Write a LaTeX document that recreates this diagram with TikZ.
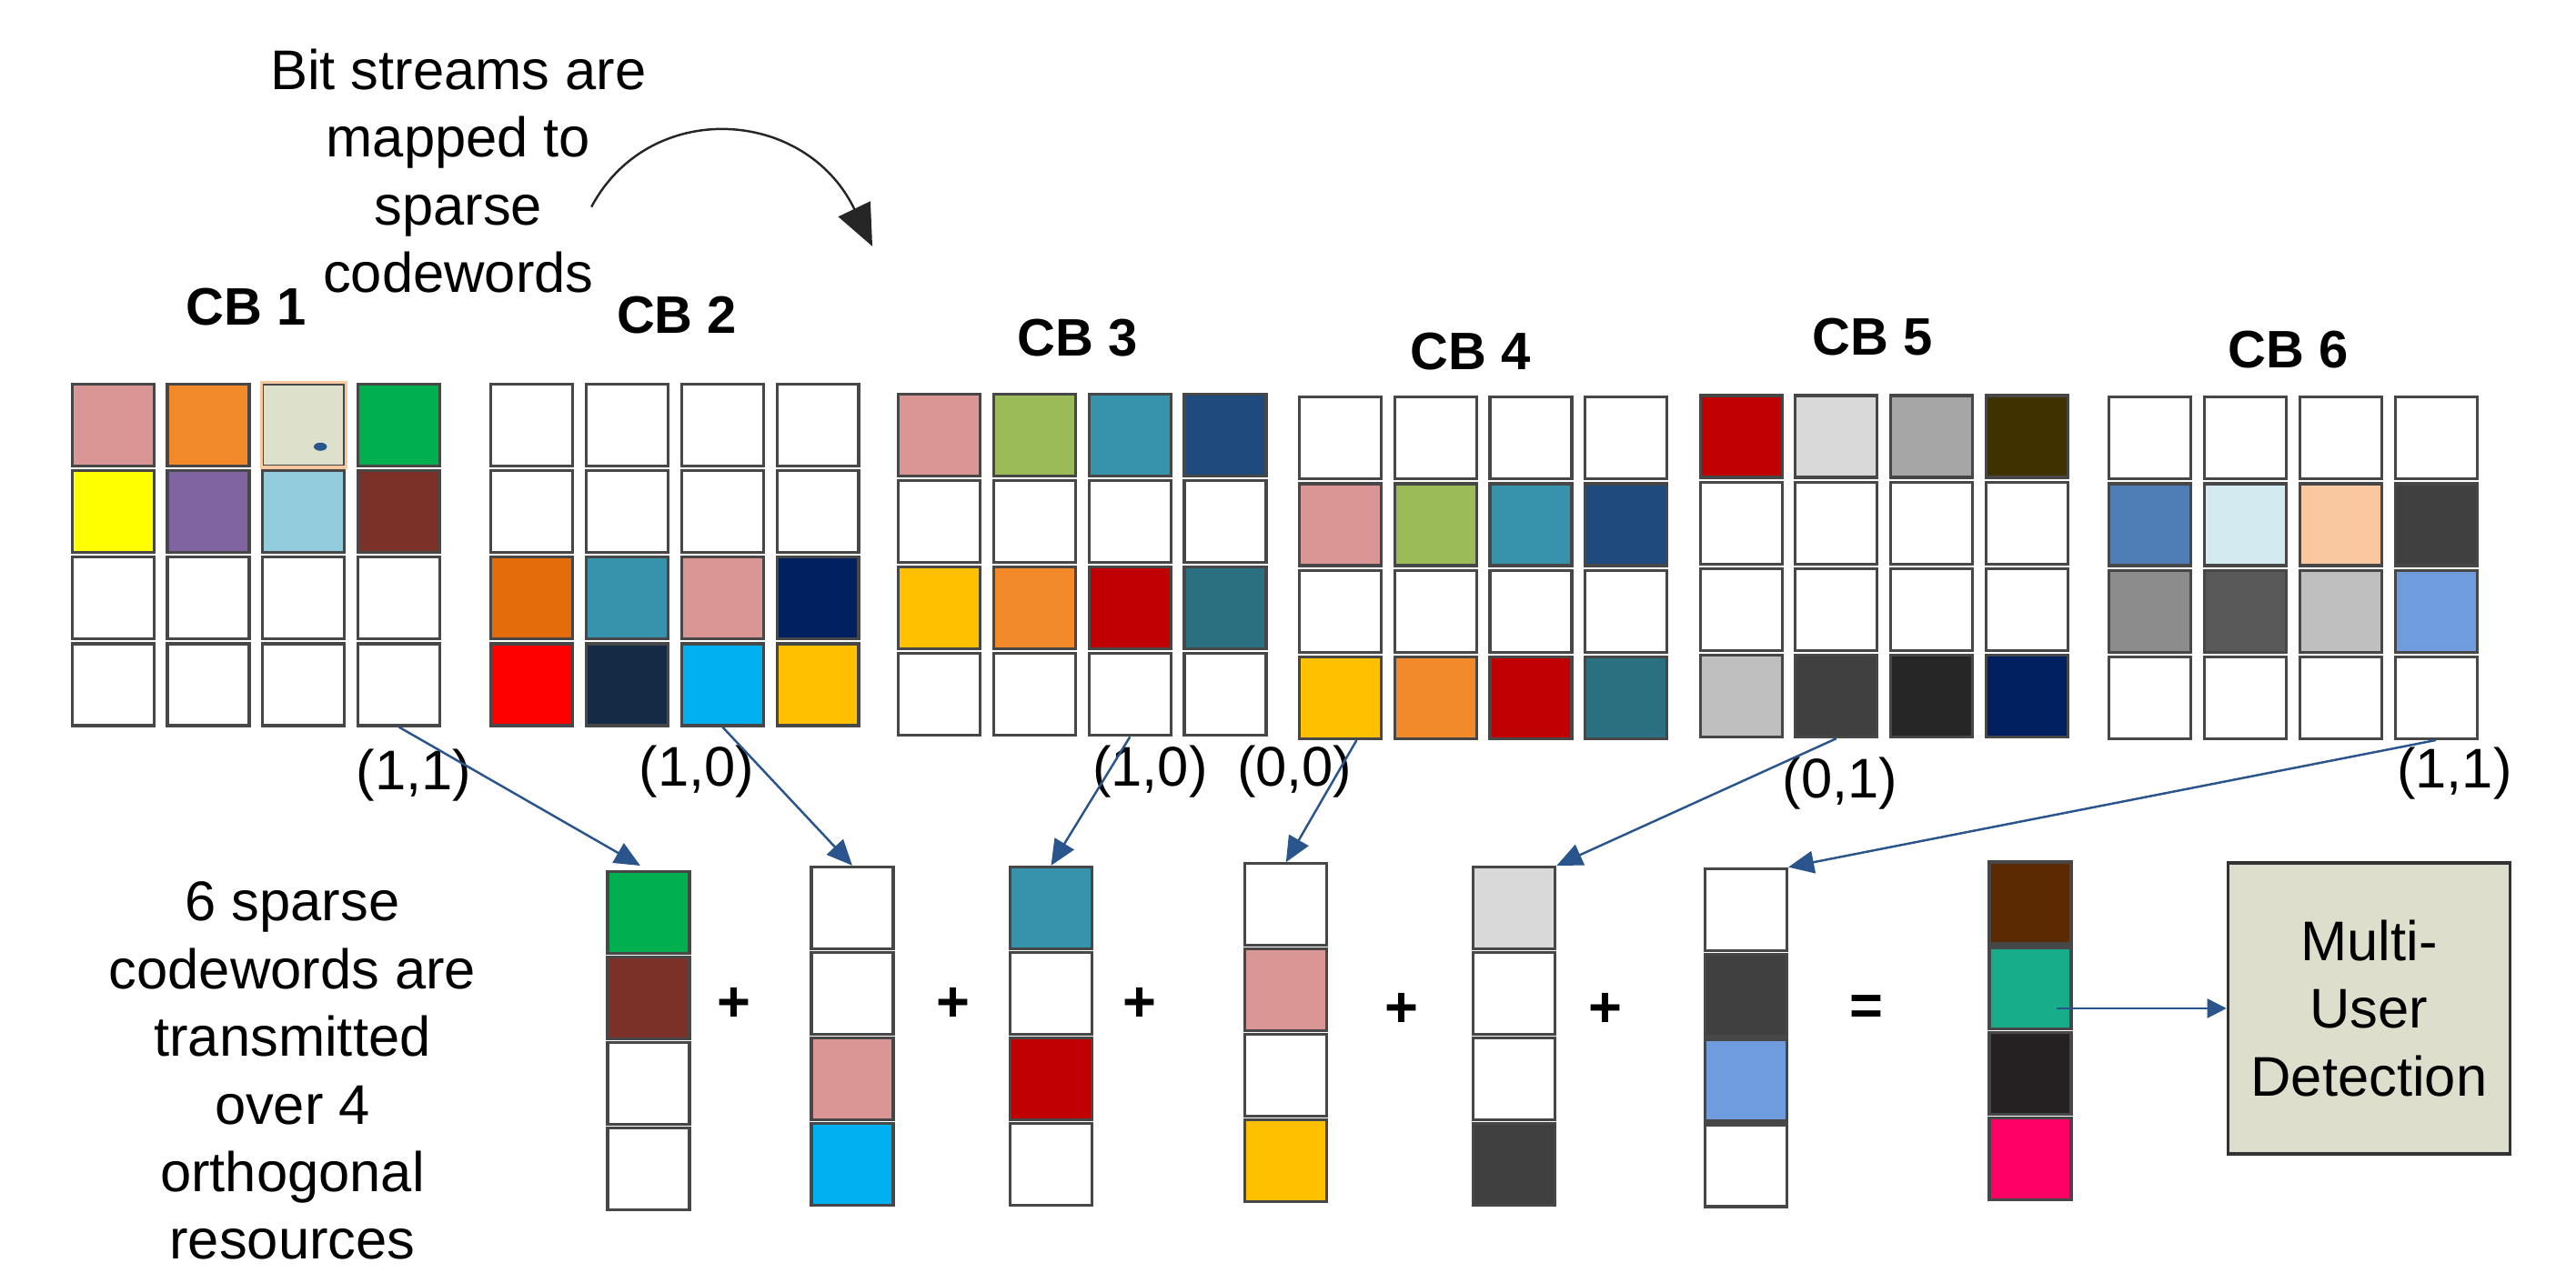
\documentclass[tikz,border=0pt]{standalone}
\usepackage{fontspec}
\setmainfont{Liberation Sans}
\usetikzlibrary{arrows.meta,calc}
\definecolor{pk}{HTML}{D99694}
\definecolor{orA}{HTML}{F28A2B}
\definecolor{lgc}{HTML}{DDE1CB}
\definecolor{gr}{HTML}{00B050}
\definecolor{ye}{HTML}{FFFF00}
\definecolor{pu}{HTML}{8064A2}
\definecolor{lb}{HTML}{93CDDD}
\definecolor{drd}{HTML}{7C3128}
\definecolor{dor}{HTML}{E46C0A}
\definecolor{tl}{HTML}{3793AC}
\definecolor{nv}{HTML}{002060}
\definecolor{rd}{HTML}{FF0000}
\definecolor{dn}{HTML}{142A45}
\definecolor{sb}{HTML}{00B0F0}
\definecolor{gd}{HTML}{FFC000}
\definecolor{og}{HTML}{9BBB59}
\definecolor{db}{HTML}{1F4A7E}
\definecolor{cr}{HTML}{C00000}
\definecolor{dt}{HTML}{2A7080}
\definecolor{lgy}{HTML}{D9D9D9}
\definecolor{mgy}{HTML}{A6A6A6}
\definecolor{ob}{HTML}{403100}
\definecolor{sv}{HTML}{BFBFBF}
\definecolor{dg}{HTML}{404040}
\definecolor{vdg}{HTML}{262626}
\definecolor{bl}{HTML}{4F7DB5}
\definecolor{lc}{HTML}{D3EAF1}
\definecolor{pe}{HTML}{F9C8A0}
\definecolor{gyb}{HTML}{8C8C8C}
\definecolor{dgb}{HTML}{595959}
\definecolor{cf}{HTML}{6E9CDC}
\definecolor{br}{HTML}{5B2A02}
\definecolor{tg}{HTML}{17AD8A}
\definecolor{bk}{HTML}{252122}
\definecolor{mg}{HTML}{FF0066}
\definecolor{mudc}{HTML}{DDDFCC}
\definecolor{arrblue}{RGB}{41,84,140}
\newcommand\codebook[4]{%
  \foreach \cc [count=\i from 0] in {#4} {%
    \pgfmathtruncatemacro\rr{\i/4+1}%
    \pgfmathtruncatemacro\kk{mod(\i,4)+1}%
    \node[cell, fill=\cc] (#1-\rr-\kk) at ({#2+(\kk-1)*58},{#3+(\rr-1)*52.7}) {};
  }}
\newcommand\vecbox[4]{%
  \foreach \cc [count=\i from 1] in {#4} {%
    \node[cell, fill=\cc] (#1-\i) at ({#2},{#3+(\i-1)*52}) {};
  }}
\begin{document}
\begin{tikzpicture}[x=0.01806cm,y=-0.01806cm,
  cell/.style={draw=black!72, line width=0.9pt, minimum width=0.9cm, minimum height=0.9cm, inner sep=0pt, anchor=north west},
  txt/.style={align=center, inner sep=0pt, font=\fontsize{17.5}{21.2}\selectfont},
  lab/.style={inner sep=0pt, font=\fontsize{16.5}{20}\selectfont\bfseries},
  pair/.style={inner sep=0pt, font=\fontsize{17.5}{21}\selectfont},
  op/.style={inner sep=0pt, font=\fontsize{18}{21}\selectfont\bfseries},
  arr/.style={draw=arrblue, line width=0.7pt, -{Triangle[length=8pt,width=7pt]}}]
\useasboundingbox (0,0) rectangle (1568,780.68);

% top text and curved arrow
\node[txt] (toptxt) at (279,104) {Bit streams are\\mapped to\\sparse\\codewords};
\coordinate (arcS) at (360,126);
\coordinate (arcE) at (531,150);
\draw[black!85, line width=0.7pt, -{Triangle[length=13pt,width=11pt]}] (arcS) .. controls (395,60) and (490,65) .. (arcE);

% codebook labels
\node[lab] (l1) at (150,187) {CB 1};
\node[lab] (l2) at (412,192) {CB 2};
\node[lab] (l3) at (656,206) {CB 3};
\node[lab] (l4) at (895,214) {CB 4};
\node[lab] (l5) at (1140,205) {CB 5};
\node[lab] (l6) at (1393,213) {CB 6};

% codebooks
\codebook{cbA}{43}{233}{pk,orA,lgc,gr,ye,pu,lb,drd,white,white,white,white,white,white,white,white}
\draw[pe, line width=0.9pt] (cbA-1-3.north west) rectangle (cbA-1-3.south east);
\fill[arrblue] (195,272) ellipse [x radius=4, y radius=2.5];
\codebook{cbB}{298}{233}{white,white,white,white,white,white,white,white,dor,tl,pk,nv,rd,dn,sb,gd}
\codebook{cbC}{546}{239}{pk,og,tl,db,white,white,white,white,gd,orA,cr,dt,white,white,white,white}
\codebook{cbD}{790}{241}{white,white,white,white,pk,og,tl,db,white,white,white,white,gd,orA,cr,dt}
\codebook{cbE}{1034}{240}{cr,lgy,mgy,ob,white,white,white,white,white,white,white,white,sv,dg,vdg,nv}
\codebook{cbF}{1283}{241}{white,white,white,white,bl,lc,pe,dg,gyb,dgb,sv,cf,white,white,white,white}

% pair labels
\node[pair] (p1) at (252,472) {(1,1)};
\node[pair] (p2) at (424,470) {(1,0)};
\node[pair] (p3) at (700,470) {(1,0)};
\node[pair] (p4) at (788,470) {(0,0)};
\node[pair] (p5) at (1120,477) {(0,1)};
\node[pair] (p6) at (1494,471) {(1,1)};

% left text
\node[txt] (lefttxt) at (178,652) {6 sparse\\codewords are\\transmitted\\over 4\\orthogonal\\resources};

% transmitted codewords
\vecbox{vA}{369}{530}{gr,drd,white,white}
\vecbox{vB}{493}{527}{white,white,pk,sb}
\vecbox{vC}{614}{527}{tl,white,cr,white}
\vecbox{vD}{757}{525}{white,pk,white,gd}
\vecbox{vE}{896}{527}{lgy,white,white,dg}
\vecbox{vF}{1037}{528}{white,dg,cf,white}
\vecbox{res}{1210}{524}{br,tg,bk,mg}

% operators
\node[op] (o1) at (447,612) {+};
\node[op] (o2) at (580,612) {+};
\node[op] (o3) at (694,612) {+};
\node[op] (o4) at (853,615) {+};
\node[op] (o5) at (977,615) {+};
\node[op] (o6) at (1136,615) {=};

% MUD box
\node[draw=black!80, line width=1pt, fill=mudc, minimum width=3.1cm, minimum height=3.2cm, align=center, inner sep=0pt, font=\fontsize{17.5}{21.2}\selectfont] (mud) at (1442,614) {Multi-\\User\\Detection};

% arrows
\draw[arr, shorten >=3pt] (cbA-4-4.south) -- (vA-1.north);
\draw[arr] (cbB-4-3.south) -- (vB-1.north);
\draw[arr] (cbC-4-3.south) -- (vC-1.north);
\draw[arr] ($(cbD-4-1.south)+(10,0)$) -- (vD-1.north);
\draw[arr] (cbE-4-2.south) -- (vE-1.north east);
\draw[arr] (cbF-4-4.south) -- (vF-1.north east);
\draw[arr, -{Triangle[length=6pt,width=6pt]}] ($(res-2.east |- mud.west)+(-10,0)$) -- (mud.west);
\end{tikzpicture}
\end{document}
